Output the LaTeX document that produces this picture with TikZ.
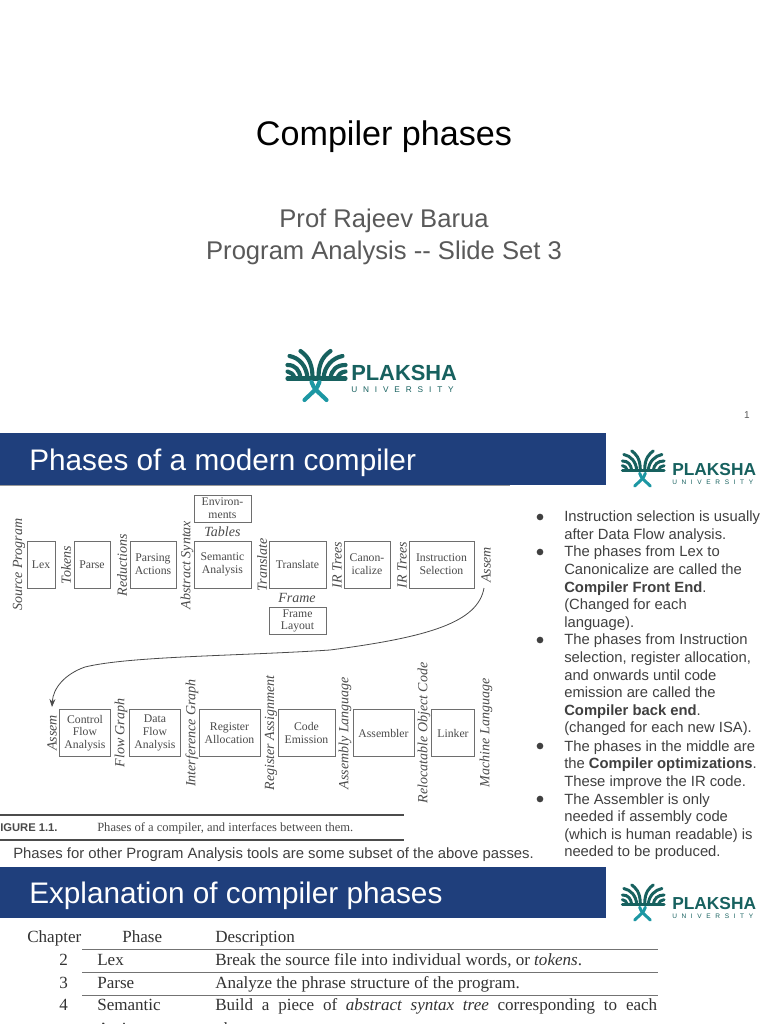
\documentclass[tikz,border=0pt]{standalone}
\usepackage{fontspec}
\setmainfont{Liberation Sans}
\newfontfamily\serifface{Liberation Serif}
\usetikzlibrary{arrows.meta}
\definecolor{bandblue}{HTML}{1F3F7C}
\definecolor{logodark}{HTML}{17615F}
\definecolor{logocyan}{HTML}{1C97A3}
\definecolor{slidegray}{HTML}{595959}
\definecolor{bodygray}{HTML}{404040}
\definecolor{figgray}{HTML}{4A4A4A}
\newcommand{\fs}[2]{\fontsize{#1}{#2}\selectfont}
\tikzset{
  phasebox/.style={draw=figgray!80,line width=0.5pt,minimum height=35pt,inner sep=0pt,align=center,text=figgray,font=\serifface\fs{8.8}{9.6}},
  sidebox/.style={phasebox,minimum height=20.5pt},
  iface/.style={rotate=90,inner sep=0pt,text=figgray,font=\serifface\itshape\fs{10.5}{11}},
  ifaceh/.style={inner sep=0pt,text=figgray,font=\serifface\itshape\fs{10.5}{11}},
  band/.style={fill=bandblue,draw=none},
  bandtitle/.style={anchor=west,inner sep=0pt,text=white,font=\fs{22.3}{26}},
  bulletitem/.style={anchor=north west,inner sep=0pt,align=left,text=bodygray,font=\fs{11.1}{13.2}},
  bulletdot/.style={circle,fill=bodygray,inner sep=0pt,minimum size=5pt},
  tablerule/.style={draw=black!55,line width=0.6pt},
  tabletext/.style={inner sep=0pt,anchor=base west,text=black!80,font=\serifface\fs{12.8}{14}},
  figrule/.style={draw=black!70,line width=1pt},
  logotext/.style={inner sep=0pt,anchor=base west,text=logodark},
}
\newcommand{\plaksha}[3]{%
\begin{scope}[shift={(#1,#2)},scale=#3,line cap=round,line width=3.1pt*#3]
  \begin{scope}[draw=logodark]
  \draw (-28,6.5) -- (30,6.5);
  \draw (-28,-7) .. controls (-20,-7) and (-16,-2) .. (-15,6);
  \draw (-28,-0.5) .. controls (-25,0) and (-22,2) .. (-21,6);
  \draw (-26,-16) .. controls (-16,-14) and (-9,-6) .. (-8,6);
  \draw (-15,-21) .. controls (-10,-17) and (-3,-12) .. (-3,6);
  \draw (15,-21) .. controls (10,-17) and (3,-12) .. (3,6);
  \draw (27,-16) .. controls (17,-14) and (9,-6) .. (8,6);
  \draw (30,-7) .. controls (21,-7) and (16,-2) .. (15,6);
  \draw (30,-0.5) .. controls (26,0) and (23,2) .. (22,6);
  \end{scope}
  \begin{scope}[draw=logocyan]
  \draw (-4,10) .. controls (-2,17) and (3,20) .. (11,28);
  \draw (4,10) .. controls (2,17) and (-3,20) .. (-11,28);
  \end{scope}
\end{scope}}
\begin{document}
\begin{tikzpicture}[x=0.75pt,y=-0.75pt]
\useasboundingbox (0,0) rectangle (768,1024);
\fill[white] (0,0) rectangle (768,1024);
\begin{scope}
\clip (0,0) rectangle (768,1024);
% title slide
\node[inner sep=0pt,font=\fs{25.6}{30}] (title) at (384,137) {Compiler phases};
\node[inner sep=0pt,text=slidegray,font=\fs{19.2}{23}] (sub1) at (384,220.5) {Prof Rajeev Barua};
\node[inner sep=0pt,text=slidegray,font=\fs{19.2}{23}] (sub2) at (384,252.5) {Program Analysis -{}- Slide Set 3};
\plaksha{315.5}{372}{1}
\node[logotext,font=\bfseries\fs{16.4}{18}] (lg1) at (351,380) {PLAKSHA};
\node[logotext,font=\fs{6.2}{7}] (lg1u) at (351,392) {\addfontfeature{LetterSpace=71}UNIVERSITY};
\node[inner sep=0pt,text=slidegray,font=\fs{7.5}{9}] (pg) at (747,415) {1};
% second slide band
\fill[band] (0,433) rectangle (606,485);
\node[bandtitle] (bt1) at (29,463) {Phases of a modern compiler};
\plaksha{642.5}{466}{0.72}
\node[logotext,font=\bfseries\fs{13}{15}] (lg2) at (672,475) {PLAKSHA};
\node[logotext,font=\fs{4.9}{6}] (lg2u) at (672,484) {\addfontfeature{LetterSpace=71}UNIVERSITY};
\draw[draw=black!40,line width=0.8pt] (0,485.5) -- (510,485.5);
% figure row 1
\node[phasebox,minimum width=21pt] (lex) at (41,564.5) {Lex};
\node[phasebox,minimum width=27pt] (parse) at (92,564.5) {Parse};
\node[phasebox,minimum width=34.5pt] (pact) at (153,564.5) {Parsing\\Actions};
\node[phasebox,minimum width=43pt] (sem) at (222.5,564.5) {Semantic\\Analysis};
\node[phasebox,minimum width=43pt] (trans) at (297.5,564.5) {Translate};
\node[phasebox,minimum width=34.5pt] (canon) at (367,564.5) {Canon-\\icalize};
\node[phasebox,minimum width=49pt] (instr) at (441.5,564.5) {Instruction\\Selection};
\node[sidebox,minimum width=43pt] (env) at (222.5,508.5) {Environ-\\ments};
\node[sidebox,minimum width=43pt] (flay) at (297.5,621) {Frame\\Layout};
\node[ifaceh] (tables) at (222.5,532) {Tables};
\node[ifaceh] (frame) at (297,598) {Frame};
\node[iface] (l1) at (19,564.5) {Source Program};
\node[iface] (l2) at (66,565) {Tokens};
\node[iface] (l3) at (122,565) {Reductions};
\node[iface] (l4) at (187,565) {Abstract Syntax};
\node[iface] (l5) at (262,565) {Translate};
\node[iface] (l6) at (337,565) {IR Trees};
\node[iface] (l7) at (402,565) {IR Trees};
\node[iface] (assem1) at (486,565) {Assem};
% figure row 2
\node[phasebox,minimum width=38pt] (cfa) at (85,733) {Control\\Flow\\Analysis};
\node[phasebox,minimum width=38pt] (dfa) at (155,733) {Data\\Flow\\Analysis};
\node[phasebox,minimum width=46pt] (reg) at (229.5,733) {Register\\Allocation};
\node[phasebox,minimum width=43pt] (code) at (306.5,733) {Code\\Emission};
\node[phasebox,minimum width=46pt] (asm) at (383.5,733) {Assembler};
\node[phasebox,minimum width=32pt] (link) at (453,733) {Linker};
\node[iface] (assem2) at (52,733) {Assem};
\node[iface] (m1) at (121,733) {Flow Graph};
\node[iface] (m2) at (192,733) {Interference Graph};
\node[iface] (m3) at (271,733) {Register Assignment};
\node[iface] (m4) at (345,733) {Assembly Language};
\node[iface] (m5) at (424,733) {Relocatable Object Code};
\node[iface] (m6) at (486,733) {Machine Language};
\coordinate (cstart) at (484,588);
\coordinate (cend) at (52,707);
\draw[draw=figgray,line width=0.6pt,-{Stealth[length=6pt,width=4.5pt]}] (cstart)
  .. controls (478,622) and (430,637) .. (330,650)
  .. controls (240,656) and (130,656) .. (85,667)
  .. controls (65,674) and (53,688) .. (cend);
% caption
\draw[figrule] (0,815) -- (404,815);
\draw[figrule] (0,840) -- (404,840);
\node[inner sep=0pt,anchor=base west,text=figgray,font=\bfseries\fs{8.4}{10}] (figno) at (0,831) {IGURE 1.1.};
\node[inner sep=0pt,anchor=base west,text=figgray,font=\serifface\fs{9.4}{11}] (figcap) at (97,831) {Phases of a compiler, and interfaces between them.};
\node[inner sep=0pt,anchor=base west,text=bodygray,font=\fs{11.15}{13}] (note) at (13,858) {Phases for other Program Analysis tools are some subset of the above passes.};
% bullets
\node[bulletdot] (d1) at (540,517) {};
\node[bulletdot] (d2) at (540,552) {};
\node[bulletdot] (d3) at (540,640) {};
\node[bulletdot] (d4) at (540,746) {};
\node[bulletdot] (d5) at (540,799) {};
\node[bulletitem] (b1) at (564,511) {Instruction selection is usually\\after Data Flow analysis.};
\node[bulletitem] (b2) at (564,546) {The phases from Lex to\\Canonicalize are called the\\\textbf{Compiler Front End}.\\(Changed for each\\language).};
\node[bulletitem] (b3) at (564,634) {The phases from Instruction\\selection, register allocation,\\and onwards until code\\emission are called the\\\textbf{Compiler back end}.\\(changed for each new ISA).};
\node[bulletitem] (b4) at (564,740) {The phases in the middle are\\the \textbf{Compiler optimizations}.\\These improve the IR code.};
\node[bulletitem] (b5) at (564,793) {The Assembler is only\\needed if assembly code\\(which is human readable) is\\needed to be produced.};
% third slide
\fill[band] (0,867) rectangle (606,918);
\node[bandtitle] (bt2) at (29,896) {Explanation of compiler phases};
\plaksha{642.5}{900}{0.72}
\node[logotext,font=\bfseries\fs{13}{15}] (lg3) at (672,909) {PLAKSHA};
\node[logotext,font=\fs{4.9}{6}] (lg3u) at (672,918) {\addfontfeature{LetterSpace=71}UNIVERSITY};
% table
\node[tabletext] (h1) at (27,942) {Chapter};
\node[tabletext] (h2) at (122,942) {Phase};
\node[tabletext] (h3) at (215,942) {Description};
\draw[tablerule] (82,949) -- (658,949);
\draw[tablerule] (82,972) -- (658,972);
\draw[tablerule] (82,995) -- (658,995);
\node[tabletext] (c2) at (59,965) {2};
\node[tabletext] (p2) at (97,965) {Lex};
\node[tabletext] (d2t) at (215,965) {Break the source file into individual words, or \textit{tokens}.};
\node[tabletext] (c3) at (59,988) {3};
\node[tabletext] (p3) at (97,988) {Parse};
\node[tabletext] (d3t) at (215,988) {Analyze the phrase structure of the program.};
\node[tabletext] (c4) at (59,1010) {4};
\node[tabletext] (p4) at (97,1010) {Semantic};
\node[tabletext] (d4t) at (215,1010) {\makebox[331.5pt][s]{Build a piece of \textit{abstract syntax tree} corresponding to each}};
\node[tabletext] (p4b) at (97,1034) {Actions};
\node[tabletext] (d4b) at (215,1034) {phrase.};
\end{scope}
\end{tikzpicture}
\end{document}
